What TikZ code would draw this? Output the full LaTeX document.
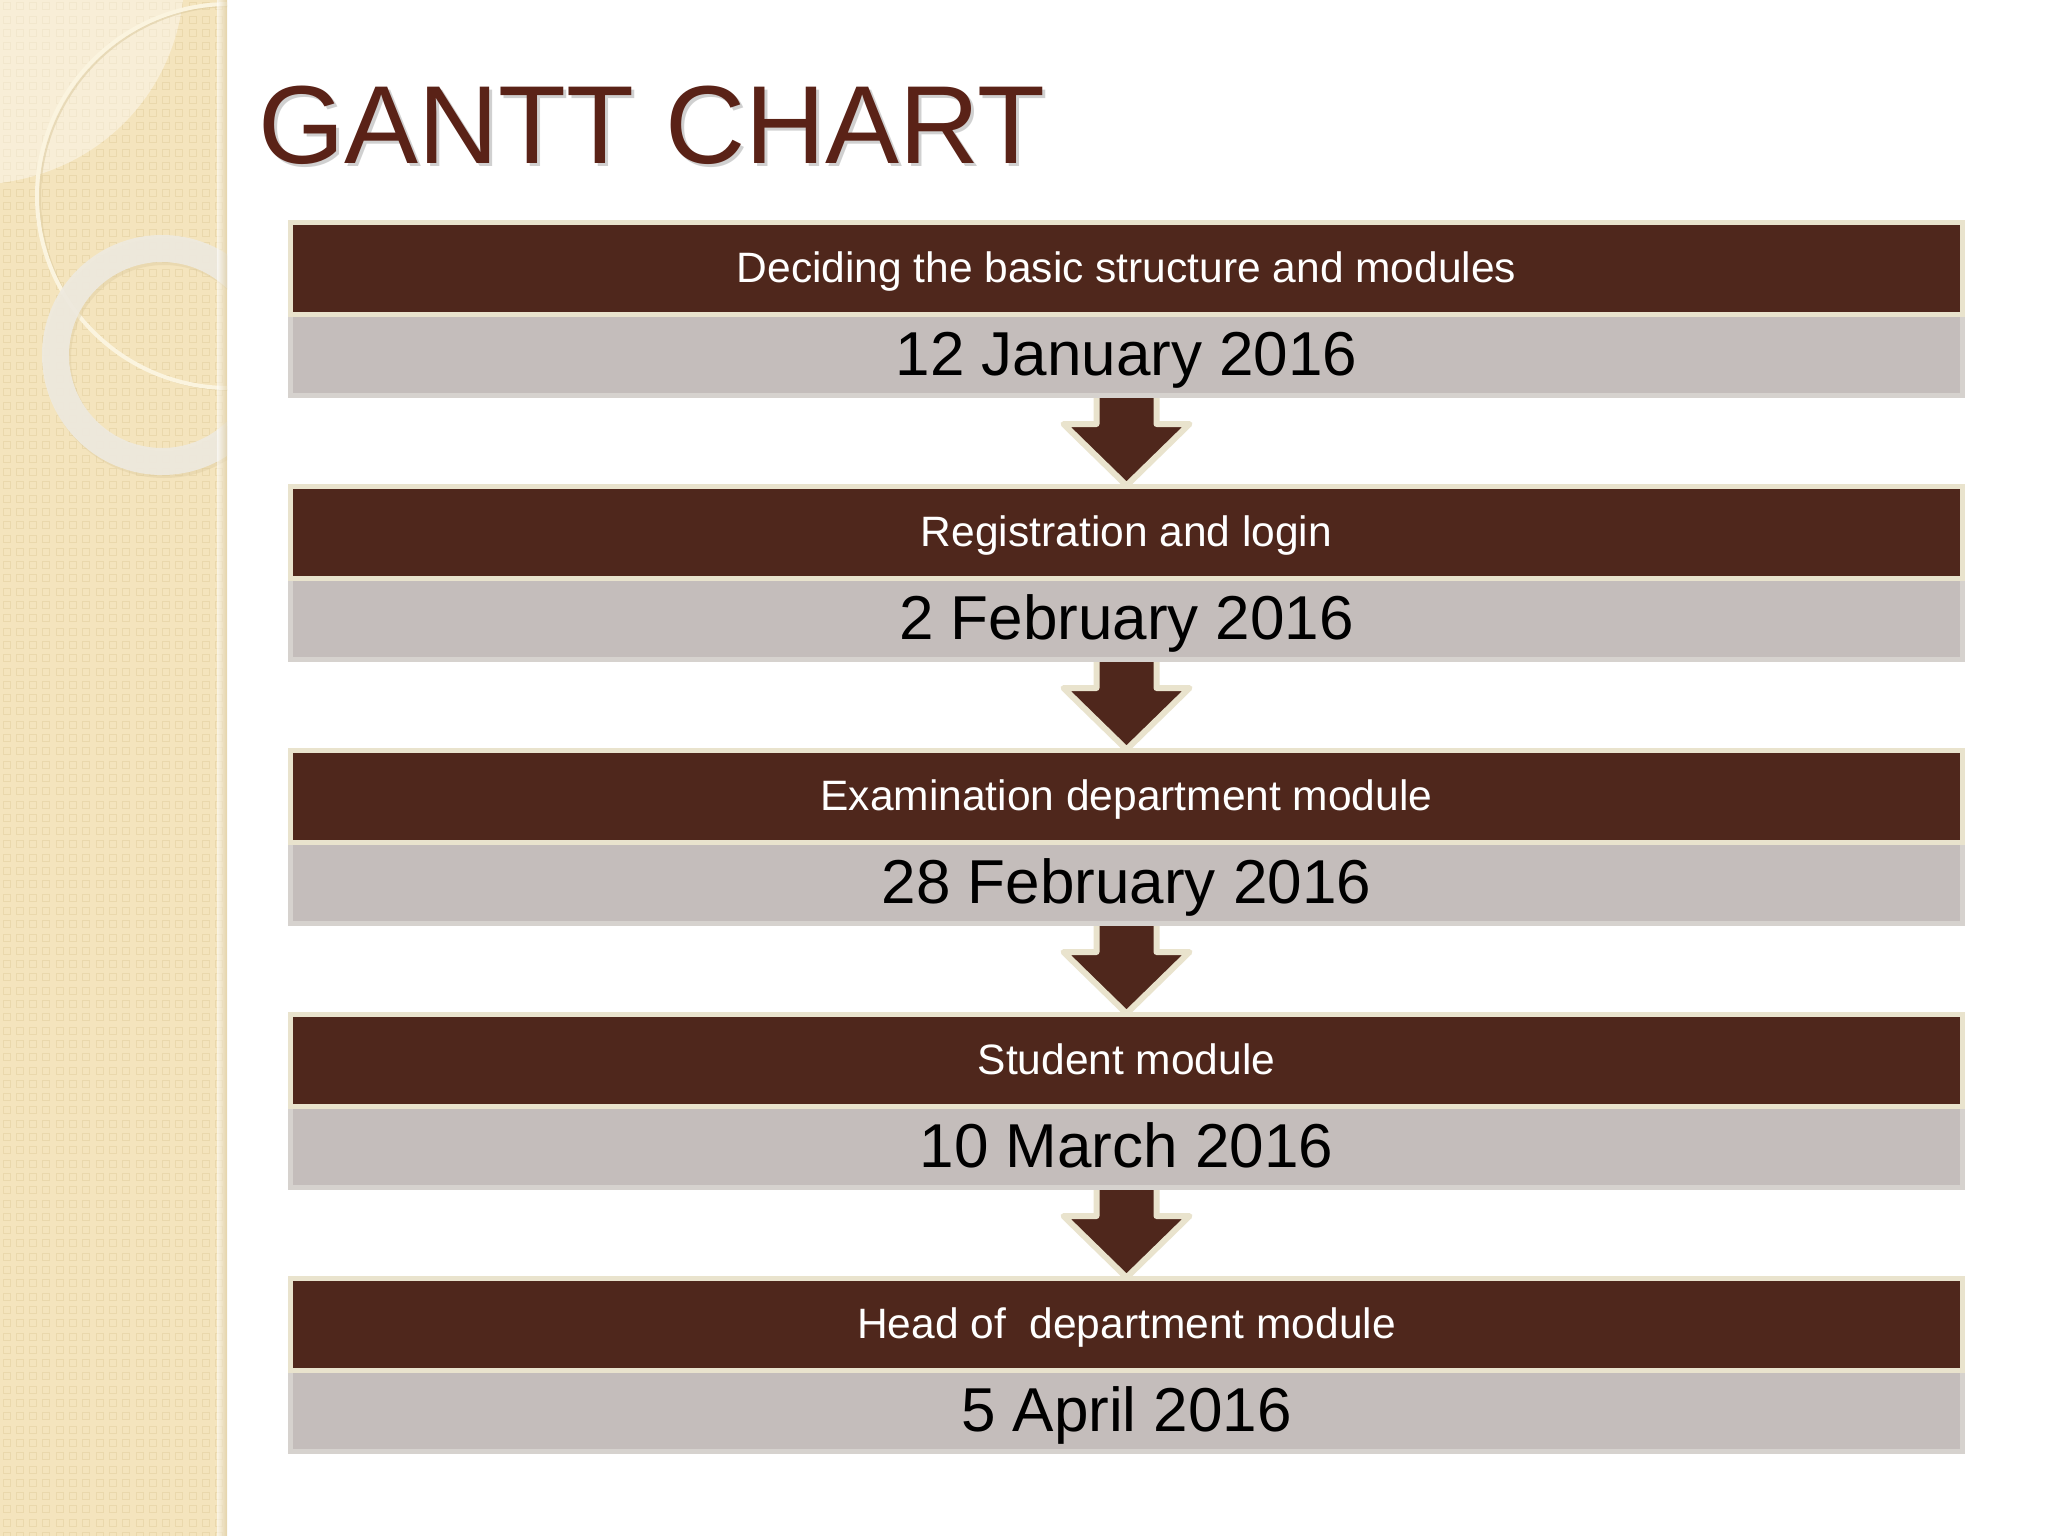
\documentclass[tikz,border=0pt]{standalone}
\usepackage{fontspec}
\setmainfont{Liberation Sans}
\usetikzlibrary{calc}
\definecolor{boxdark}{HTML}{4F271C}
\definecolor{titlebrown}{HTML}{5A2217}
\definecolor{boxgray}{HTML}{C4BDBB}
\definecolor{creamline}{HTML}{E9E3CD}
\definecolor{grayline}{HTML}{D6D2CE}
\definecolor{panelbeige}{HTML}{F4E4BD}
\definecolor{paneldot}{HTML}{EAD8AC}
\definecolor{paneledge}{HTML}{D9C79A}
\definecolor{ringfill}{HTML}{EEEAE0}
\definecolor{arcline}{HTML}{FBF4DF}
\pgfdeclarelayer{back}
\pgfdeclarelayer{bg}
\pgfsetlayers{back,bg,main}
\tikzset{
  hdrbox/.style={rectangle, fill=boxdark, draw=creamline, line width=5pt,
    minimum width=1672pt, minimum height=92pt, inner sep=0pt, outer sep=0pt,
    text=white, font=\fontsize{42.5}{50}\selectfont, text height=30pt, text depth=3pt},
  datebox/.style={rectangle, fill=boxgray, draw=grayline, line width=5pt,
    minimum width=1672pt, minimum height=80.5pt, inner sep=0pt, outer sep=0pt,
    text=black, font=\fontsize{62}{74}\selectfont, text height=45pt, text depth=4.5pt},
  flowarrow/.style={fill=boxdark, draw=creamline, line width=6pt, line join=round},
  titletext/.style={font=\fontsize{111}{130}\selectfont, inner sep=0pt, anchor=base west},
}
\begin{document}
\begin{tikzpicture}[x=1pt,y=-1pt]
\useasboundingbox (0,0) rectangle (2048,1536);
\begin{pgfonlayer}{back}
\fill[white] (0,0) rectangle (2048,1536);
\end{pgfonlayer}
% left decorative panel
\begin{scope}
  \clip (0,0) rectangle (227,1536);
  \fill[panelbeige] (0,0) rectangle (227,1536);
  \foreach \i in {0,...,17} {
    \foreach \j in {0,...,115} {
      \draw[paneldot, line width=1pt] ({\i*13.3+3},{\j*13.3+3}) rectangle ++(7,7);
    }
  }
  \fill[white, opacity=0.4] (0,0) -- (183,0) .. controls (172,95) and (100,170) .. (0,183) -- cycle;
  \draw[paneledge, line width=2pt, opacity=0.5] (232,198) circle[radius=192];
  \draw[arcline, line width=4pt] (229,196) circle[radius=192];
  \fill[paneledge, opacity=0.35, even odd rule] (164,358) circle[radius=120] (164,358) circle[radius=93];
  \fill[ringfill, opacity=0.9, even odd rule] (162,355) circle[radius=120] (162,355) circle[radius=93];
  \shade[left color=paneledge!0, right color=paneledge, opacity=0.6] (217,0) rectangle (227,1536);
\end{scope}
% title
\node[titletext, text=gray!60, opacity=0.6] (titleshadow) at (261,167) {GANTT CHART};
\node[titletext, text=titlebrown] (title) at (258,164) {GANTT CHART};
% boxes
\foreach \i/\h/\d in {1/{Deciding the basic structure and modules}/{12 January 2016},
                      2/{Registration and login}/{2 February 2016},
                      3/{Examination department module}/{28 February 2016},
                      4/{Student module}/{10 March 2016},
                      5/{Head of\ \ department module}/{5 April 2016}} {
  \node[datebox] (d\i) at (1126.5,{354.75+264*(\i-1)}) {\d};
  \node[hdrbox] (h\i) at (1126.5,{268.5+264*(\i-1)}) {\h};
}
% arrows
\begin{pgfonlayer}{bg}
\foreach \a/\b in {d1/h2,d2/h3,d3/h4,d4/h5} {
  \draw[flowarrow] ($(\a.south)+(-30,-4)$) -- ($(\a.south)+(30,-4)$) -- ($(\a.south)+(30,29)$)
    -- ($(\a.south)+(63,29)$) -- ($(\b.north)+(0,-1)$) -- ($(\a.south)+(-63,29)$)
    -- ($(\a.south)+(-30,29)$) -- cycle;
}
\end{pgfonlayer}
\end{tikzpicture}
\end{document}
